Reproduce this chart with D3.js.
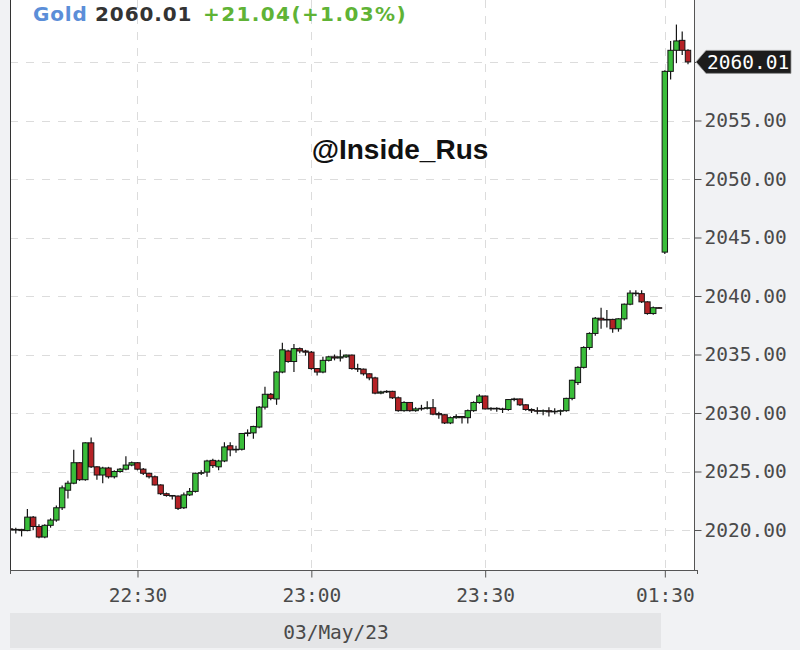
<!DOCTYPE html>
<html><head><meta charset="utf-8">
<script src="https://cdn.jsdelivr.net/npm/d3@7"></script>
<style>body{margin:0;background:#f1f2f4;} svg{display:block}</style>
</head><body>
<svg id="c" width="800" height="650"></svg>
<script>
// ---------- data ----------
const times = [
"22:08","22:09","22:10","22:11","22:12","22:13","22:14","22:15","22:16","22:17",
"22:18","22:19","22:20","22:21","22:22","22:23","22:24","22:25","22:26","22:27",
"22:28","22:29","22:30","22:31","22:32","22:33","22:34","22:35","22:36","22:37",
"22:38","22:39","22:40","22:41","22:42","22:43","22:44","22:45","22:46","22:47",
"22:48","22:49","22:50","22:51","22:52","22:53","22:54","22:55","22:56","22:57",
"22:58","22:59","23:00","23:01","23:02","23:03","23:04","23:05","23:06","23:07",
"23:08","23:09","23:10","23:11","23:12","23:13","23:14","23:15","23:16","23:17",
"23:18","23:19","23:20","23:21","23:22","23:23","23:24","23:25","23:26","23:27",
"23:28","23:29","23:30","23:31","23:32","23:33","23:34","23:35","23:36","23:37",
"23:38","23:39","23:40","23:41","23:42","23:43","23:44","23:45","23:46","23:47",
"23:48","23:49","23:50","23:51","23:52","23:53","23:54","23:55","23:56","23:57",
"23:58","23:59","00:00","01:30","01:31","01:32","01:33","01:34"];
const open = [
2020.1,2020.0,2020.05,2019.95,2021.1,2020.3,2019.4,2020.4,2020.85,2021.9,
2023.4,2024.0,2025.75,2024.3,2027.45,2025.4,2024.7,2025.3,2024.55,2025.0,
2025.2,2025.55,2025.75,2025.2,2024.85,2024.55,2023.85,2023.1,2022.95,2022.9,
2021.9,2023.0,2023.3,2024.85,2024.95,2025.95,2025.4,2025.9,2027.2,2026.85,
2026.9,2028.25,2028.3,2028.8,2030.5,2031.6,2031.2,2033.5,2035.3,2034.4,
2035.5,2035.3,2035.2,2033.8,2033.5,2034.5,2034.8,2034.7,2034.8,2034.95,
2033.8,2033.75,2033.35,2033.0,2031.7,2031.8,2031.85,2031.3,2030.2,2030.9,
2030.2,2030.35,2030.4,2030.45,2029.95,2029.85,2029.15,2029.6,2029.7,2029.6,
2030.2,2030.9,2031.45,2030.35,2030.4,2030.35,2030.3,2031.15,2031.2,2030.7,
2030.3,2030.2,2030.15,2030.2,2030.1,2030.15,2030.2,2031.25,2032.6,2033.9,
2035.6,2036.8,2038.1,2037.95,2038.0,2037.2,2038.05,2039.3,2040.25,2040.2,
2039.5,2038.5,2039.0,2043.75,2059.2,2061.0,2061.85,2061.0];
const high = [
2022.4,2020.2,2020.1,2021.8,2021.2,2020.5,2020.5,2021.0,2022.1,2023.8,
2024.2,2026.85,2025.8,2027.5,2027.9,2025.45,2025.4,2025.4,2025.1,2025.3,
2026.3,2025.85,2025.8,2025.3,2024.9,2024.65,2023.9,2023.2,2023.0,2022.95,
2023.2,2023.6,2024.9,2025.1,2026.0,2026.1,2026.0,2027.5,2027.5,2027.2,
2028.3,2028.6,2028.9,2030.6,2032.25,2031.7,2033.6,2036.0,2035.4,2035.9,
2035.6,2035.4,2035.3,2033.85,2034.8,2034.9,2035.0,2035.4,2035.0,2035.0,
2034.2,2033.8,2033.4,2033.1,2031.9,2031.95,2031.9,2031.4,2031.0,2030.95,
2030.5,2030.7,2031.0,2031.2,2030.1,2029.9,2029.7,2029.9,2029.75,2030.3,
2031.0,2031.6,2031.5,2030.5,2030.5,2030.45,2031.2,2031.3,2031.25,2030.75,
2030.4,2030.5,2030.3,2030.5,2030.4,2030.3,2031.3,2032.85,2034.0,2035.7,
2036.9,2038.2,2039.0,2038.8,2038.05,2038.1,2039.35,2040.5,2040.5,2040.5,
2039.55,2039.1,2039.05,2059.3,2061.8,2063.2,2062.6,2061.1];
const low = [
2019.9,2019.7,2019.45,2019.9,2020.0,2019.3,2019.3,2020.2,2020.7,2021.7,
2022.7,2023.9,2024.2,2024.2,2025.3,2024.3,2024.0,2024.4,2024.4,2024.9,
2025.1,2025.45,2025.1,2024.7,2024.4,2023.8,2023.0,2022.85,2022.6,2021.7,
2021.8,2022.9,2023.2,2024.7,2024.55,2025.3,2025.1,2025.8,2026.3,2026.6,
2026.8,2028.0,2027.8,2028.7,2030.3,2031.1,2030.7,2033.4,2034.3,2033.5,
2035.1,2034.9,2033.7,2033.2,2033.4,2034.4,2034.5,2034.4,2034.7,2033.7,
2033.5,2033.2,2032.8,2031.6,2031.6,2031.7,2031.2,2030.1,2030.1,2030.1,
2030.1,2030.2,2030.3,2029.8,2029.5,2029.05,2029.05,2029.5,2029.1,2029.1,
2030.1,2030.8,2030.3,2030.2,2030.1,2030.0,2030.2,2031.0,2030.6,2030.2,
2030.0,2029.9,2029.8,2029.7,2029.9,2029.8,2030.1,2031.1,2032.4,2033.8,
2035.4,2036.6,2037.2,2037.3,2036.85,2036.95,2037.9,2039.2,2040.0,2039.4,
2038.4,2038.4,2038.95,2043.6,2058.5,2059.9,2060.6,2059.8];
const close = [
2020.0,2020.05,2019.95,2021.1,2020.3,2019.4,2020.4,2020.85,2021.9,2023.6,
2024.0,2025.75,2024.3,2027.45,2025.4,2024.7,2025.3,2024.55,2025.0,2025.2,
2025.55,2025.75,2025.2,2024.85,2024.55,2023.85,2023.1,2022.95,2022.9,2021.85,
2023.0,2023.3,2024.85,2024.9,2025.9,2025.5,2025.9,2027.1,2026.85,2026.9,
2028.25,2028.3,2028.85,2030.5,2031.6,2031.25,2033.5,2035.4,2034.4,2035.5,
2035.3,2035.2,2033.8,2033.5,2034.5,2034.8,2034.7,2034.8,2034.95,2033.8,
2033.75,2033.35,2033.0,2031.7,2031.8,2031.85,2031.3,2030.2,2030.9,2030.2,
2030.35,2030.4,2030.45,2029.9,2029.85,2029.15,2029.6,2029.7,2029.6,2030.2,
2030.9,2031.45,2030.35,2030.4,2030.35,2030.3,2031.15,2031.2,2030.7,2030.3,
2030.2,2030.15,2030.2,2030.1,2030.15,2030.2,2031.25,2032.8,2033.9,2035.6,
2036.8,2038.1,2037.95,2038.0,2037.2,2038.05,2039.3,2040.25,2040.2,2039.5,
2038.5,2039.0,2038.97,2059.2,2061.0,2061.8,2061.0,2060.01];
const yTicks = [2020,2025,2030,2035,2040,2045,2050,2055,2060];
const xTickLabels = ["22:30","23:00","23:30","01:30"];
const dateLabel = "03/May/23";
const instrument = "Gold";
const lastText = "2060.01";
const changeText = "+21.04(+1.03%)";
const lastPrice = 2060.01;
const watermark = "@Inside_Rus";

// ---------- layout ----------
const P = {left:10, right:694, top:0, bottom:570};
const svg = d3.select("#c");
const x = d3.scaleLinear().domain([0, times.length-1]).range([10, 688]);
const y = d3.scaleLinear().domain([2020, 2060]).range([530, 62]);
const mono = "'DejaVu Sans Mono', monospace";

svg.append("rect").attr("width",800).attr("height",650).attr("fill","#f1f2f4");
svg.append("rect").attr("x",P.left).attr("y",P.top).attr("width",P.right-P.left).attr("height",P.bottom-P.top).attr("fill","#ffffff");

svg.append("defs").append("clipPath").attr("id","clip")
  .append("rect").attr("x",P.left).attr("y",P.top).attr("width",P.right-P.left).attr("height",P.bottom-P.top);

// grid
const grid = svg.append("g").attr("clip-path","url(#clip)");
grid.selectAll("line.h").data(yTicks).join("line").attr("class","h")
  .attr("x1",P.left).attr("x2",P.right)
  .attr("y1",d=>Math.round(y(d))+0.5).attr("y2",d=>Math.round(y(d))+0.5)
  .attr("stroke","#dcdcdc").attr("stroke-dasharray","8,8");
const xTickIdx = xTickLabels.map(l=>times.indexOf(l));
grid.selectAll("line.v").data(xTickIdx).join("line").attr("class","v")
  .attr("y1",P.top).attr("y2",P.bottom)
  .attr("x1",d=>Math.round(x(d))+0.5).attr("x2",d=>Math.round(x(d))+0.5)
  .attr("stroke","#dcdcdc").attr("stroke-dasharray","8,8");

// title & watermark
const tt = svg.append("text").attr("y",21).attr("font-family","'DejaVu Sans', sans-serif")
  .attr("font-weight","bold").attr("font-size",20);
tt.append("tspan").attr("x",33).attr("fill","#5b8ed8").attr("letter-spacing","0.8px").text(instrument);
tt.append("tspan").attr("x",95).attr("fill","#333333").attr("letter-spacing","0.9px").text(lastText);
tt.append("tspan").attr("x",203).attr("fill","#5fb336").attr("letter-spacing","1.4px").text(changeText);

svg.append("text").attr("x",400).attr("y",159).attr("text-anchor","middle")
  .attr("font-family","'Liberation Sans', Arial, sans-serif").attr("font-weight","bold")
  .attr("font-size",28).attr("fill","#111").text(watermark);

// candles
const data = times.map((t,i)=>({t,i,o:open[i],h:high[i],l:low[i],c:close[i]}));
const cg = svg.append("g").attr("clip-path","url(#clip)");
const bw = 5.4;
cg.selectAll("line.w").data(data).join("line").attr("class","w")
  .attr("x1",d=>x(d.i)).attr("x2",d=>x(d.i))
  .attr("y1",d=>y(d.h)).attr("y2",d=>y(d.l))
  .attr("stroke","#151515").attr("stroke-width",1.2);
cg.selectAll("rect.b").data(data).join("rect").attr("class","b")
  .attr("x",d=>x(d.i)-bw/2).attr("width",bw)
  .attr("y",d=>y(Math.max(d.o,d.c)))
  .attr("height",d=>Math.max(0.6, Math.abs(y(d.o)-y(d.c))))
  .attr("fill",d=>d.c>=d.o ? "#3abd3a" : "#b52226")
  .attr("stroke","#151515").attr("stroke-width",1);

// frame lines
svg.append("line").attr("x1",P.left+0.5).attr("x2",P.left+0.5).attr("y1",0).attr("y2",P.bottom)
  .attr("stroke","#333");
svg.append("line").attr("x1",P.right+0.5).attr("x2",P.right+0.5).attr("y1",0).attr("y2",P.bottom)
  .attr("stroke","#555");
svg.append("line").attr("x1",P.left).attr("x2",697).attr("y1",P.bottom+0.5).attr("y2",P.bottom+0.5)
  .attr("stroke","#555");
[P.left+0.5, 697.5].forEach(px=>svg.append("line").attr("x1",px).attr("x2",px)
  .attr("y1",P.bottom).attr("y2",P.bottom+4).attr("stroke","#555"));

// y axis (label of the last-price level is covered by the price marker, so left blank)
const ya = svg.append("g").attr("transform",`translate(${P.right+0.5},0)`)
  .call(d3.axisRight(y).tickValues(yTicks)
    .tickFormat(d => Math.abs(y(d)-y(lastPrice)) < 12 ? "" : d3.format(".2f")(d))
    .tickSize(7).tickPadding(3));
ya.select(".domain").remove();
ya.selectAll("line").attr("stroke","#555");
ya.selectAll("text").attr("font-family",mono).attr("font-size",19.5).attr("fill","#4a4a4a");

// x axis
const xa = svg.append("g").attr("transform",`translate(0,${P.bottom+0.5})`)
  .call(d3.axisBottom(x).tickValues(xTickIdx).tickFormat(i=>times[i]).tickSize(7).tickPadding(11));
xa.select(".domain").remove();
xa.selectAll("line").attr("stroke","#555");
xa.selectAll("text").attr("font-family",mono).attr("font-size",19.5).attr("fill","#4a4a4a");

// date band
svg.append("rect").attr("x",P.left).attr("y",613).attr("width",651).attr("height",35).attr("fill","#e4e5e7");
svg.append("text").attr("x",336).attr("y",639).attr("text-anchor","middle")
  .attr("font-family",mono).attr("font-size",19.5).attr("fill","#4a4a4a").text(dateLabel);

// last price marker
const ly = y(lastPrice);
svg.append("path")
  .attr("d",`M696,${ly} L706,${ly-11.5} L791,${ly-11.5} L791,${ly+11.5} L706,${ly+11.5} Z`)
  .attr("fill","#1c1c1c").attr("stroke","#999").attr("stroke-width",0.8);
svg.append("text").attr("x",707).attr("y",ly).attr("dy","0.34em")
  .attr("font-family",mono).attr("font-size",19.5).attr("fill","#ffffff").text(lastText);
</script>
</body></html>
